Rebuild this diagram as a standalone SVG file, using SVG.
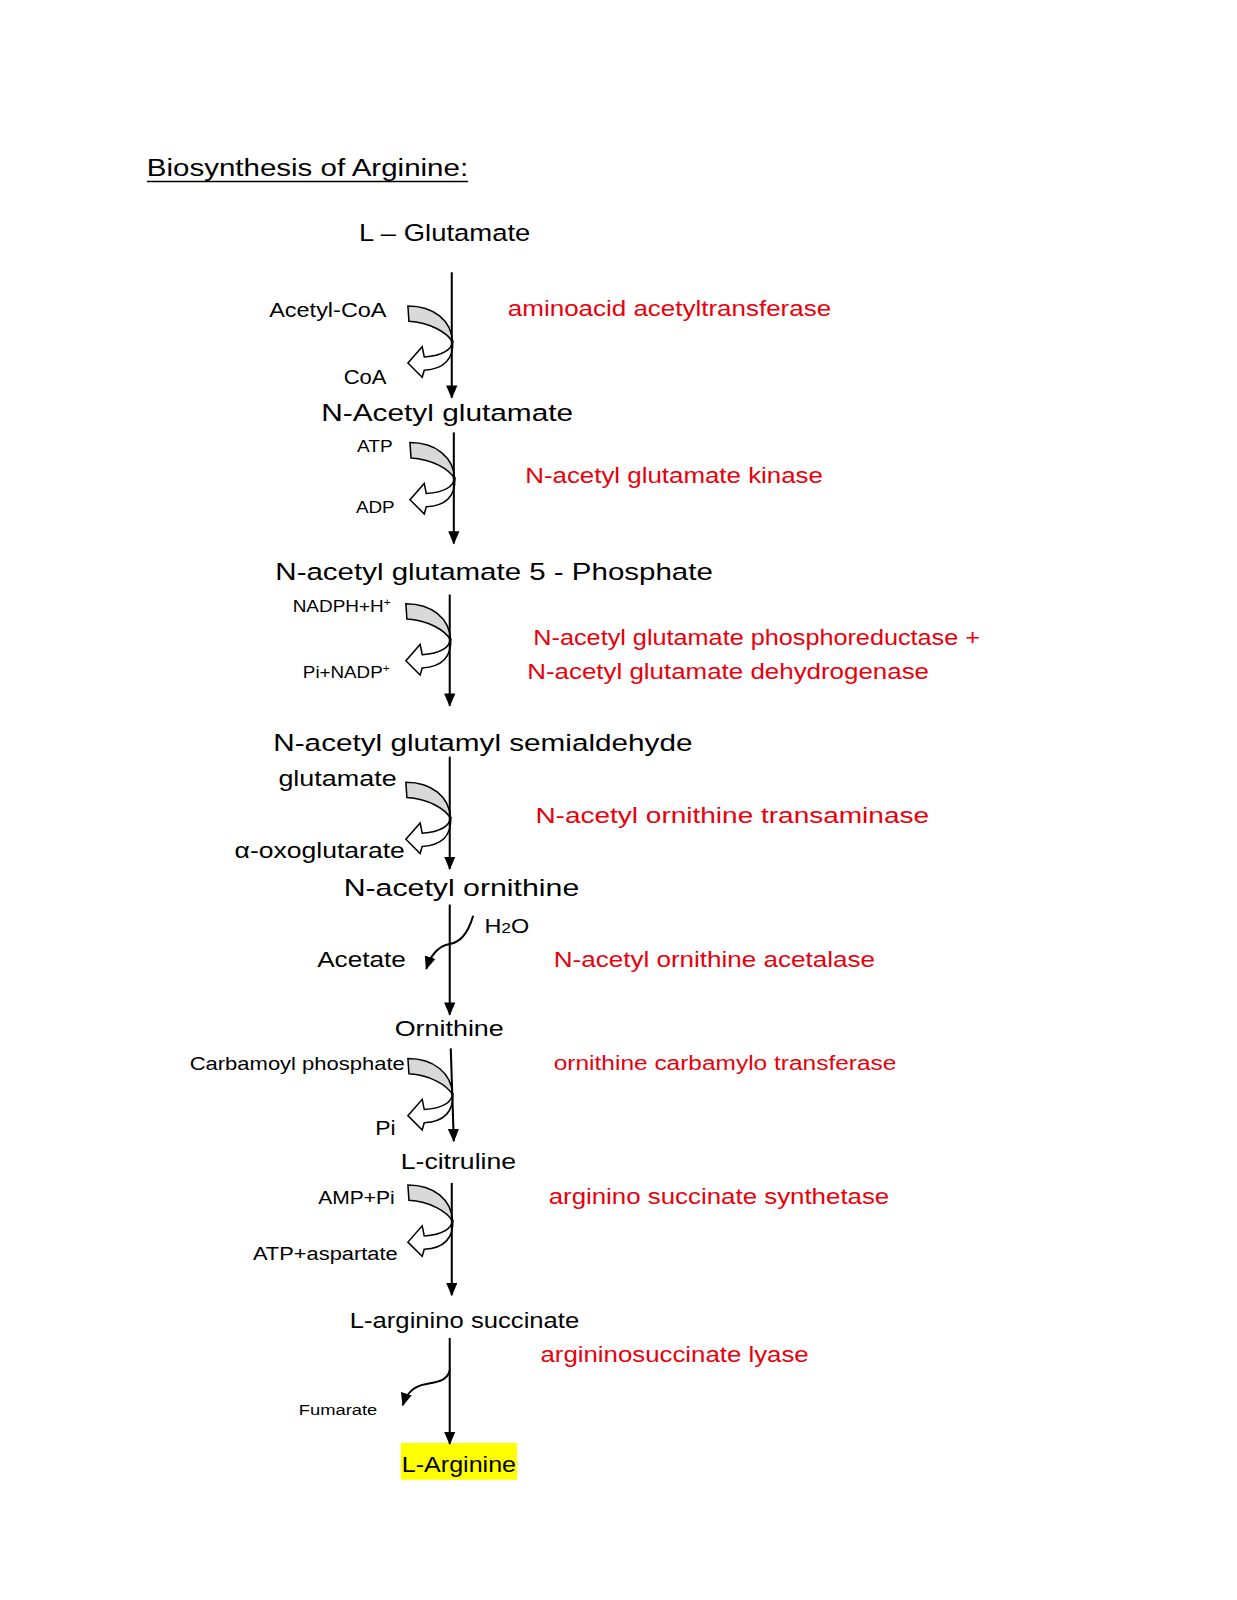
<svg xmlns="http://www.w3.org/2000/svg" xmlns:xlink="http://www.w3.org/1999/xlink" width="1237" height="1600" viewBox="0 0 1237 1600">
<style>
text{font-family:"Liberation Sans",Arial,sans-serif;fill:#000}
.r{fill:#e8000b}
.ln{stroke:#000;stroke-width:2;fill:none}
.g{fill:#d9d9d9;stroke:#000;stroke-width:1.5}
.w{fill:#fff;stroke:#000;stroke-width:1.5}
</style>
<defs>
<marker id="ah" markerUnits="userSpaceOnUse" markerWidth="14" markerHeight="14" viewBox="0 0 14 14" refX="12" refY="7" orient="auto">
<path d="M0,1.5 L13,7 L0,12.5 Z" fill="#000"/>
</marker>
<g id="band">
<path class="g" d="M-43,0 C-18,0 0,14 1,36 C-4,26 -22,16 -42,15 Z"/>
<path class="w" d="M1,34 C0,45 -14,49 -27,50 L-29,40 L-43,56 L-29,70 L-27,63 C-10,62 2,54 1,34 Z"/>
</g>
</defs>
<rect width="1237" height="1600" fill="#fff"/>
<g transform="scale(1.0198)">
<g id="title">
<text x="144" y="173" font-size="23" textLength="315" lengthAdjust="spacingAndGlyphs">Biosynthesis of Arginine:</text>
<line x1="144" y1="178" x2="459" y2="178" stroke="#000" stroke-width="1.5"/>
</g>

<g id="n-arginine">
<rect x="393" y="1415" width="114" height="36" fill="#ffff00"/>
<text x="394" y="1443" font-size="21" textLength="112" lengthAdjust="spacingAndGlyphs">L-Arginine</text>
</g>

<g id="connectors">
<use href="#band" transform="translate(443,300)"/>
<use href="#band" transform="translate(445,434)"/>
<use href="#band" transform="translate(441,592)"/>
<use href="#band" transform="translate(441,767)"/>
<use href="#band" transform="translate(443,1038)"/>
<use href="#band" transform="translate(443,1162)"/>
<line class="ln" x1="443" y1="267" x2="443" y2="390" marker-end="url(#ah)"/>
<line class="ln" x1="445" y1="424" x2="445" y2="533" marker-end="url(#ah)"/>
<line class="ln" x1="441" y1="583" x2="441" y2="692" marker-end="url(#ah)"/>
<line class="ln" x1="441" y1="742" x2="441" y2="852" marker-end="url(#ah)"/>
<line class="ln" x1="441" y1="887" x2="441" y2="995" marker-end="url(#ah)"/>
<line class="ln" x1="442" y1="1028" x2="445" y2="1119" marker-end="url(#ah)"/>
<line class="ln" x1="443" y1="1160" x2="443" y2="1270" marker-end="url(#ah)"/>
<line class="ln" x1="441" y1="1312" x2="441" y2="1416" marker-end="url(#ah)"/>
<path class="ln" d="M464,898 C458,918 450,924 440,926 C430,928 423,935 418,950" marker-end="url(#ah)"/>
<path class="ln" d="M441,1344 C438,1356 425,1355 414,1358 C403,1361 398,1368 395,1378" marker-end="url(#ah)"/>
</g>

<g id="n-glutamate"><text x="352" y="236" font-size="23.5" textLength="168" lengthAdjust="spacingAndGlyphs">L – Glutamate</text></g>
<g id="s-acetylcoa"><text x="264" y="311" font-size="19.5" textLength="115" lengthAdjust="spacingAndGlyphs">Acetyl-CoA</text></g>
<g id="e1"><text class="r" x="498" y="310" font-size="21" textLength="317" lengthAdjust="spacingAndGlyphs">aminoacid acetyltransferase</text></g>
<g id="s-coa"><text x="337" y="377" font-size="19.5" textLength="42" lengthAdjust="spacingAndGlyphs">CoA</text></g>
<g id="n-acetylglutamate"><text x="315" y="413" font-size="24" textLength="247" lengthAdjust="spacingAndGlyphs">N-Acetyl glutamate</text></g>
<g id="s-atp"><text x="350" y="443" font-size="17" textLength="35" lengthAdjust="spacingAndGlyphs">ATP</text></g>
<g id="e2"><text class="r" x="515" y="474" font-size="21" textLength="292" lengthAdjust="spacingAndGlyphs">N-acetyl glutamate kinase</text></g>
<g id="s-adp"><text x="349" y="503" font-size="17" textLength="38" lengthAdjust="spacingAndGlyphs">ADP</text></g>
<g id="n-phosphate"><text x="270" y="569" font-size="24" textLength="429" lengthAdjust="spacingAndGlyphs">N-acetyl glutamate 5 - Phosphate</text></g>
<g id="s-nadph"><text x="287" y="600" font-size="16" textLength="96" lengthAdjust="spacingAndGlyphs">NADPH+H<tspan font-size="10" dy="-6">+</tspan></text></g>
<g id="e3"><text class="r" x="523" y="632" font-size="21.5" textLength="438" lengthAdjust="spacingAndGlyphs">N-acetyl glutamate phosphoreductase +</text>
<text class="r" x="517" y="666" font-size="21.5" textLength="394" lengthAdjust="spacingAndGlyphs">N-acetyl glutamate dehydrogenase</text></g>
<g id="s-nadp"><text x="297" y="665" font-size="16" textLength="85" lengthAdjust="spacingAndGlyphs">Pi+NADP<tspan font-size="10" dy="-6">+</tspan></text></g>
<g id="n-semialdehyde"><text x="268" y="736" font-size="24" textLength="411" lengthAdjust="spacingAndGlyphs">N-acetyl glutamyl semialdehyde</text></g>
<g id="s-glutamate"><text x="273" y="771" font-size="21" textLength="116" lengthAdjust="spacingAndGlyphs">glutamate</text></g>
<g id="e4"><text class="r" x="525" y="807" font-size="22" textLength="386" lengthAdjust="spacingAndGlyphs">N-acetyl ornithine transaminase</text></g>
<g id="s-oxoglutarate"><text x="230" y="841" font-size="21" textLength="167" lengthAdjust="spacingAndGlyphs">α-oxoglutarate</text></g>
<g id="n-acetylornithine"><text x="337" y="879" font-size="24" textLength="231" lengthAdjust="spacingAndGlyphs">N-acetyl ornithine</text></g>
<g id="s-h2o"><text x="475" y="915" font-size="20" textLength="44" lengthAdjust="spacingAndGlyphs">H<tspan font-size="15">2</tspan>O</text></g>
<g id="s-acetate"><text x="311" y="948" font-size="21" textLength="87" lengthAdjust="spacingAndGlyphs">Acetate</text></g>
<g id="e5"><text class="r" x="543" y="948" font-size="21" textLength="315" lengthAdjust="spacingAndGlyphs">N-acetyl ornithine acetalase</text></g>
<g id="n-ornithine"><text x="387" y="1016" font-size="21" textLength="107" lengthAdjust="spacingAndGlyphs">Ornithine</text></g>
<g id="s-carbamoyl"><text x="186" y="1049" font-size="18.5" textLength="211" lengthAdjust="spacingAndGlyphs">Carbamoyl phosphate</text></g>
<g id="e6"><text class="r" x="543" y="1049" font-size="20" textLength="336" lengthAdjust="spacingAndGlyphs">ornithine carbamylo transferase</text></g>
<g id="s-pi"><text x="368" y="1113" font-size="20" textLength="20" lengthAdjust="spacingAndGlyphs">Pi</text></g>
<g id="n-citruline"><text x="393" y="1146" font-size="21" textLength="113" lengthAdjust="spacingAndGlyphs">L-citruline</text></g>
<g id="s-amp"><text x="312" y="1181" font-size="18" textLength="75" lengthAdjust="spacingAndGlyphs">AMP+Pi</text></g>
<g id="e7"><text class="r" x="538" y="1181" font-size="21" textLength="334" lengthAdjust="spacingAndGlyphs">arginino succinate synthetase</text></g>
<g id="s-atpasp"><text x="248" y="1236" font-size="18" textLength="142" lengthAdjust="spacingAndGlyphs">ATP+aspartate</text></g>
<g id="n-argsucc"><text x="343" y="1302" font-size="21" textLength="225" lengthAdjust="spacingAndGlyphs">L-arginino succinate</text></g>
<g id="e8"><text class="r" x="530" y="1336" font-size="21" textLength="263" lengthAdjust="spacingAndGlyphs">argininosuccinate lyase</text></g>
<g id="s-fumarate"><text x="293" y="1388" font-size="15" textLength="77" lengthAdjust="spacingAndGlyphs">Fumarate</text></g>
</g>
</svg>
